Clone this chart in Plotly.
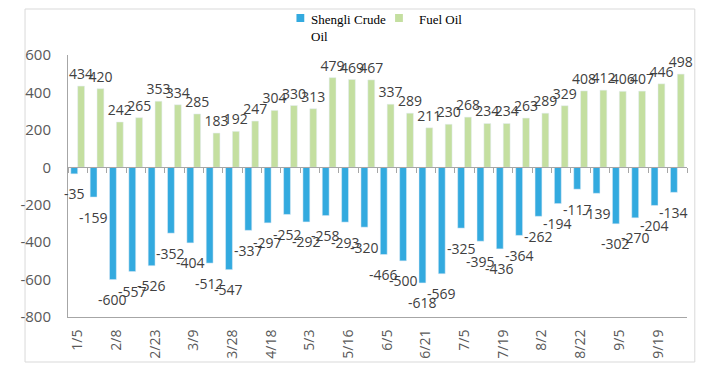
import plotly.graph_objects as go

n_cats = 32
x_idx = list(range(n_cats))
tick_labels = ["1/5", "2/8", "2/23", "3/9", "3/28", "4/18", "5/3", "5/16",
               "6/5", "6/21", "7/5", "7/19", "8/2", "8/22", "9/5", "9/19"]
tick_positions = list(range(0, n_cats, 2))

shengli = [-35, -159, -600, -557, -526, -352, -404, -512, -547, -337, -297, -252,
           -292, -258, -293, -320, -466, -500, -618, -569, -325, -395, -436, -364,
           -262, -194, -117, -139, -302, -270, -204, -134]
fuel = [434, 420, 242, 265, 353, 334, 285, 183, 192, 247, 304, 330, 313, 479, 469,
        467, 337, 289, 211, 230, 268, 234, 234, 263, 289, 329, 408, 412, 406, 407,
        446, 498]

series_names = ["Shengli Crude<br>Oil", "Fuel Oil"]
blue = "#33AADF"
green = "#C4DFA0"
label_font = dict(family="Open Sans", size=14, color="#404040")

BARGAP = 0.29
bar_w = (1 - BARGAP) / 2

fig = go.Figure()
fig.add_trace(go.Bar(x=x_idx, y=shengli, marker_color=blue, name=series_names[0],
                     showlegend=False))
fig.add_trace(go.Bar(x=x_idx, y=fuel, marker_color=green, name=series_names[1],
                     text=[str(v) for v in fuel], textposition="outside",
                     textfont=label_font, constraintext="none", cliponaxis=False,
                     showlegend=False))

# labels for negative bars, placed below the bar end
for i, v in zip(x_idx, shengli):
    fig.add_annotation(x=i - bar_w / 2, y=v, text=str(v), showarrow=False,
                       yanchor="middle", yshift=-20, font=label_font)

# page body margin offset (8px) compensation
OFF = 8
W, H = 705 - OFF, 379 - OFF
L, R, T, B = 53 - OFF, 18, 55 - OFF, 62
pw, ph = W - L - R, H - T - B

def px(xp):
    return (xp - OFF - L) / pw

def py(yp):
    return (H - B - (yp - OFF)) / ph

fig.update_layout(
    width=W, height=H,
    margin=dict(l=L, r=R, t=T, b=B),
    plot_bgcolor="white", paper_bgcolor="white",
    barmode="group", bargap=BARGAP, bargroupgap=0,
    xaxis=dict(range=[-0.5, n_cats - 0.5], tickmode="array",
               tickvals=tick_positions, ticktext=tick_labels, tickangle=-90,
               showline=True, linecolor="#A6A6A6", linewidth=1, ticks="",
               showgrid=False, zeroline=False, ticklabelstandoff=6,
               tickfont=dict(family="Open Sans", size=14, color="#595959")),
    xaxis2=dict(range=[-0.5, n_cats - 0.5], overlaying="x", anchor="free",
                position=800 / 1400, showline=True, linecolor="#A6A6A6",
                ticks="outside", ticklen=5, tickcolor="#A6A6A6",
                tickmode="array", tickvals=[i + 0.5 for i in range(-1, n_cats)],
                showticklabels=False, showgrid=False, zeroline=False),
    yaxis=dict(range=[-800, 600], tickmode="array",
               tickvals=[600, 400, 200, 0, -200, -400, -600, -800],
               ticktext=["600", "400", "200", "0", "-200", "-400", "-600", "-800"],
               showline=True, linecolor="#A6A6A6", showgrid=False, zeroline=False,
               ticks="", ticklabelstandoff=13,
               tickfont=dict(family="Open Sans", size=15, color="#595959")),
)

# dummy trace to activate xaxis2
fig.add_trace(go.Scatter(x=[0], y=[0], xaxis="x2", mode="markers",
                         marker=dict(opacity=0), showlegend=False, hoverinfo="skip"))

# chart area border
fig.add_shape(type="rect", xref="paper", yref="paper",
              x0=px(9), x1=px(695), y0=py(362), y1=py(9),
              line=dict(color="#D9D9D9", width=1), layer="below")

# manual legend
legend_items = [(287, 300, series_names[0], blue), (388, 410, series_names[1], green)]
for sq_x, tx_x, name, col in legend_items:
    fig.add_shape(type="rect", xref="paper", yref="paper",
                  x0=px(sq_x), x1=px(sq_x + 8), y0=py(22), y1=py(14),
                  fillcolor=col, line=dict(width=0))
    fig.add_annotation(xref="paper", yref="paper", x=px(tx_x), y=py(10),
                       xanchor="left", yanchor="top", align="left", showarrow=False,
                       text=name, font=dict(family="Liberation Serif", size=13,
                                            color="#000000"))

fig.write_html("out.html")
